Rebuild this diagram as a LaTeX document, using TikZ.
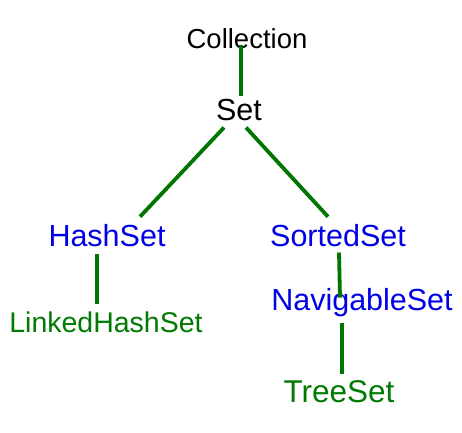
\documentclass[tikz,border=0pt]{standalone}
\usepackage{fontspec}
\setmainfont{Liberation Sans}
\usetikzlibrary{positioning}
\definecolor{setcol}{RGB}{0,0,230}
\definecolor{classcol}{RGB}{0,122,0}
\definecolor{linkcol}{RGB}{0,118,0}

\begin{document}
\begin{tikzpicture}[
			x=1pt,
			y=1pt,
			label/.style={
				inner sep=0pt,
				anchor=base,
				font=\fontsize{30.5}{36}\selectfont
			},
			top/.style={
				label,
				text=black
			},
			iface/.style={
				label,
				text=setcol
			},
			impl/.style={
				label,
				text=classcol
			},
			link/.style={
				draw=linkcol,
				line width=3.8pt
			}
			]
			\useasboundingbox (0,0) rectangle (462,-432);
			% Types
			\node[top, font=\fontsize{27.5}{32}\selectfont] (coll) at (247,-48) {Collection};
			\node[top] (set) at (239,-120) {Set};
			\node[iface] (hash) at (107,-246) {HashSet};
			\node[impl, font=\fontsize{28.5}{34}\selectfont] (linked) at (106,-332) {LinkedHashSet};
			\node[iface] (sorted) at (338,-246) {SortedSet};
			\node[iface] (nav) at (362,-310) {NavigableSet};
			\node[impl, font=\fontsize{31.5}{38}\selectfont] (tree) at (339,-402) {TreeSet};
			
			% Links
			\draw[link] ([shift={(-6,3)}]coll.south) -- ([shift={(2,3)}]set.north);
			\draw[link] ([shift={(-15,-7)}]set.south) -- ([shift={(33,7)}]hash.north);
			\draw[link] ([shift={(7,-7)}]set.south) -- ([shift={(-10,7)}]sorted.north);
			\draw[link] ([shift={(-10,-7)}]hash.south) -- ([shift={(-9,7)}]linked.north);
			\draw[link] ([shift={(1,-6)}]sorted.south) -- ([shift={(-22,-10)}]nav.north);
			\draw[link] ([shift={(-20,-6)}]nav.south) -- ([shift={(3,6)}]tree.north);
		\end{tikzpicture}
\end{document}
